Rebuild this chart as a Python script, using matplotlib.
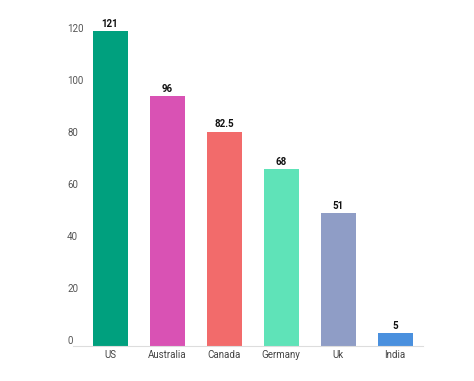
import matplotlib.pyplot as plt

countries = ["US", "Australia", "Canada", "Germany", "Uk", "India"]
values = [121, 96, 82.5, 68, 51, 5]
value_labels = ["121", "96", "82.5", "68", "51", "5"]
colors = ["#00A07E", "#D952B4", "#F26B6B", "#5FE3B8", "#8F9DC6", "#4A90DE"]
y_ticks = [0, 20, 40, 60, 80, 100, 120]

plt.rcParams["font.family"] = ["Roboto", "DejaVu Sans"]

fig = plt.figure(figsize=(4.74, 3.81), dpi=100)
ax = fig.add_axes([73 / 474, 35 / 381, 350 / 474, 338 / 381])

x = list(range(len(countries)))
ax.bar(x, values, width=0.614, color=colors, zorder=2)

for xi, v, lab in zip(x, values, value_labels):
    ax.annotate(lab, (xi, v), xytext=(0, 1.5), textcoords="offset points",
                ha="center", va="bottom", fontsize=7, fontweight="bold",
                color="#111111")

ax.set_xlim(-0.65, 5.49)
ax.set_ylim(0, 130)

ax.set_xticks(x)
ax.set_xticklabels(countries, fontsize=7, color="#444444")
ax.tick_params(axis="x", length=0, pad=3)

ax.set_yticks([])
for t in y_ticks:
    ax.text(-0.017, t, str(t), transform=ax.get_yaxis_transform(),
            ha="left", va="bottom", fontsize=7, color="#555555")

for side in ["top", "right", "left"]:
    ax.spines[side].set_visible(False)
ax.spines["bottom"].set_color("#dddddd")
ax.spines["bottom"].set_linewidth(0.8)

fig.savefig("out.png", dpi=100)
